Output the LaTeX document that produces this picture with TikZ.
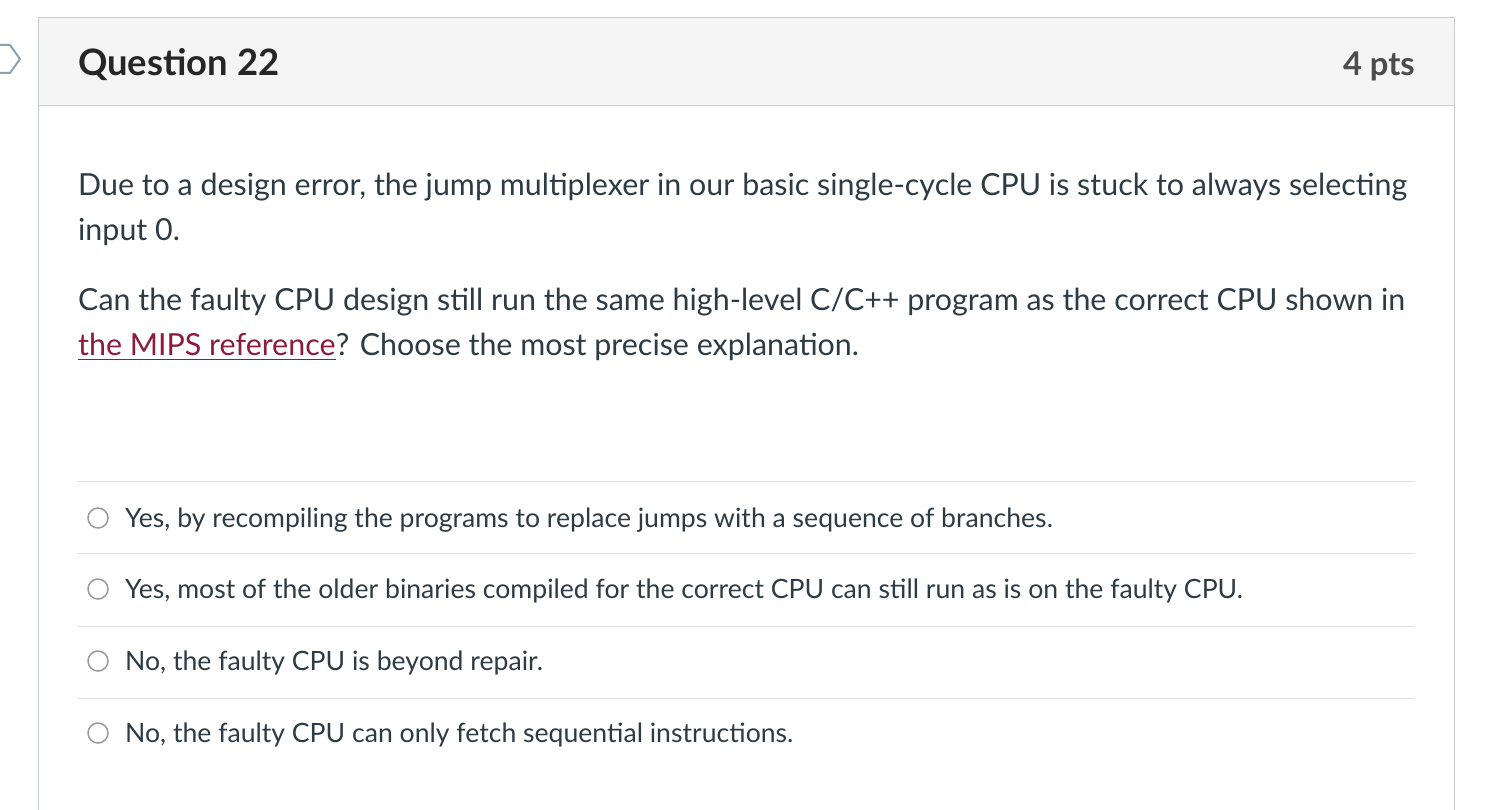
\documentclass[tikz,border=0pt]{standalone}
\usepackage{fontspec}
\setmainfont{Lato}
\definecolor{txt}{HTML}{2D3B45}
\definecolor{lnk}{HTML}{8B1C3E}
\definecolor{hdr}{HTML}{F5F5F5}
\definecolor{brd}{HTML}{C7CDD1}
\definecolor{arr}{HTML}{8AA2B8}
\begin{document}
\begin{tikzpicture}[x=1pt,y=-1pt,
  body/.style={anchor=base west,inner sep=0,text=txt,font=\fontsize{30.4}{36}\selectfont},
  opt/.style={anchor=base west,inner sep=0,text=txt,font=\fontsize{26.6}{32}\selectfont},
  radio/.style={circle,draw=gray!80,line width=1.5pt,minimum size=20pt,inner sep=0},
  sep/.style={draw=gray!25,line width=1pt}]
\useasboundingbox (0,0) rectangle (1490,810);
\fill[hdr] (38,18) rectangle (1454,106);
\draw[brd,line width=1pt] (38,812) -- (38,18) -- (1454,18) -- (1454,812);
\draw[brd,line width=1pt] (38,106) -- (1454,106);
\draw[arr,line width=2pt,line join=round] (-5,45) -- (10,45) -- (20,59) -- (10,73) -- (-5,73);
\node[anchor=base west,inner sep=0,text=black!85,font=\bfseries\fontsize{36.4}{42}\selectfont] (t) at (78,76) {Question 22};
\node[anchor=base east,inner sep=0,text=black!70,font=\bfseries\fontsize{32.7}{38}\selectfont] (p) at (1415,76) {4 pts};
\node[body] (l1) at (78,196) {Due to a design error, the jump multiplexer in our basic single-cycle CPU is stuck to always selecting};
\node[body] (l2) at (78,241) {input 0.};
\node[body] (l3) at (78,310) {Can the faulty CPU design still run the same high-level C/C++ program as the correct CPU shown in};
\node[body,text=lnk] (lk) at (78,355) {the MIPS reference};
\draw[lnk,line width=1.4pt] ([yshift=-4.5pt]lk.base west) -- ([yshift=-4.5pt]lk.base east);
\node[body] (l4) at (lk.base east) {? Choose the most precise explanation.};
\foreach \y in {481,553,626,698} \draw[sep] (78,\y) -- (1415,\y);
\node[radio] (r1) at (98,518) {};
\node[radio] (r2) at (98,589) {};
\node[radio] (r3) at (98,661) {};
\node[radio] (r4) at (98,733) {};
\node[opt] (o1) at (125,527) {Yes, by recompiling the programs to replace jumps with a sequence of branches.};
\node[opt] (o2) at (125,598) {Yes, most of the older binaries compiled for the correct CPU can still run as is on the faulty CPU.};
\node[opt] (o3) at (125,670) {No, the faulty CPU is beyond repair.};
\node[opt] (o4) at (125,742) {No, the faulty CPU can only fetch sequential instructions.};
\end{tikzpicture}
\end{document}
